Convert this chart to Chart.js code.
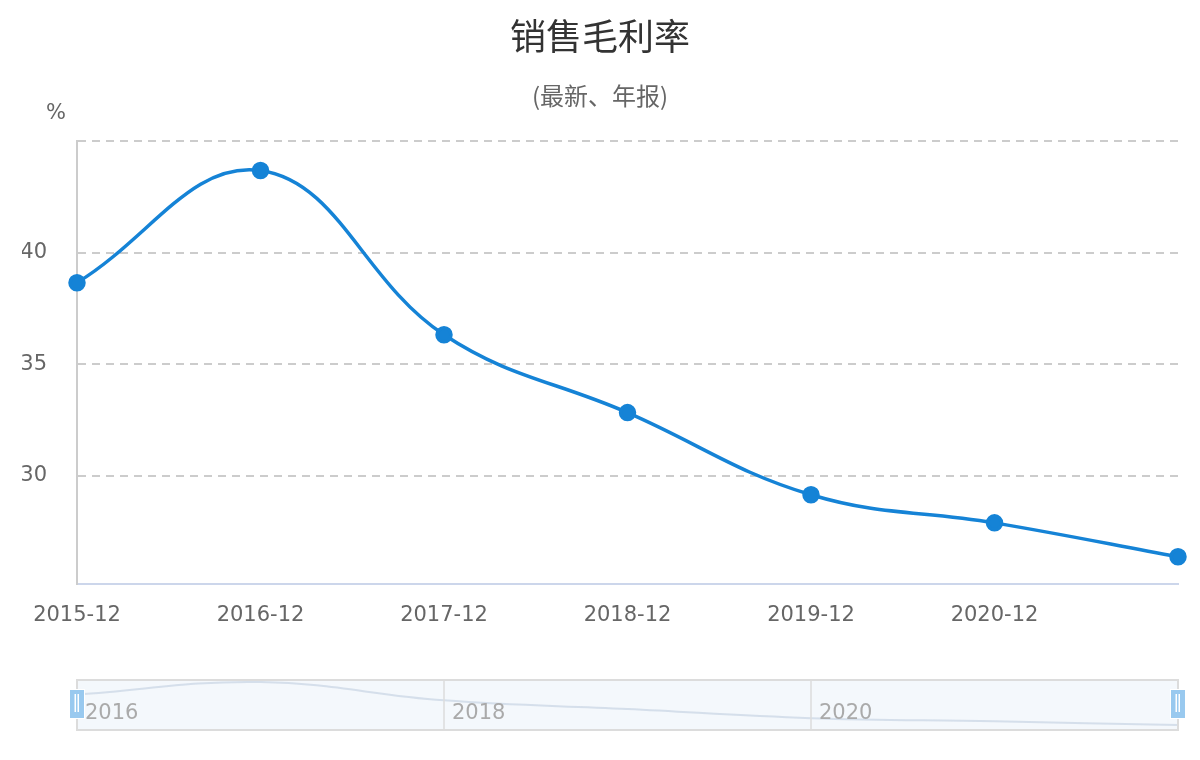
<!DOCTYPE html>
<html>
<head>
<meta charset="utf-8">
<script src="https://cdn.jsdelivr.net/npm/chart.js@4.4.1/dist/chart.umd.min.js"></script>
<style>
  body { margin: 0; background: #fff; }
  canvas { display: block; }
</style>
</head>
<body>
<canvas id="mainChart" width="1200" height="660"></canvas>
<canvas id="navChart" width="1200" height="100"></canvas>
<script>
const categories = ['2015-12', '2016-12', '2017-12', '2018-12', '2019-12', '2020-12', '2021-12'];
const grossMargin = [38.65, 43.68, 36.32, 32.83, 29.15, 27.89, 26.37];
const yTicks = [30, 35, 40, 45];
const navTickIndex = [0, 2, 4];
const navTickLabels = ['2016', '2018', '2020'];

const numFont = 'DejaVu Sans';
const cjkFont = 'Noto Sans CJK SC';

// unit label above the y axis
const unitPlugin = {
    id: 'unit',
    afterDraw(chart) {
        const ctx = chart.ctx, a = chart.chartArea;
        ctx.save();
        ctx.font = '21px "' + numFont + '"';
        ctx.fillStyle = '#666';
        ctx.textAlign = 'center';
        ctx.textBaseline = 'middle';
        ctx.fillText('%', a.left - 21, a.top - 27);
        ctx.restore();
    }
};

new Chart(document.getElementById('mainChart'), {
    type: 'line',
    data: {
        labels: categories,
        datasets: [{
            data: grossMargin,
            borderColor: '#1583d6',
            backgroundColor: '#1583d6',
            borderWidth: 3.5,
            tension: 0.4,
            pointRadius: 7,
            pointHoverRadius: 7,
            clip: false
        }]
    },
    options: {
        responsive: false,
        animation: false,
        layout: { padding: { top: 0, left: 22, right: 22, bottom: 13 } },
        plugins: {
            legend: { display: false },
            tooltip: { enabled: false },
            title: {
                display: true, text: '销售毛利率', color: '#333',
                font: { family: cjkFont, size: 36, weight: 'normal' },
                padding: { top: 15, bottom: 0 }
            },
            subtitle: {
                display: true, text: '(最新、年报)', color: '#666',
                font: { family: cjkFont, size: 24, weight: 'normal' },
                padding: { top: 23, bottom: 31 }
            }
        },
        scales: {
            x: {
                grid: { display: false, drawTicks: false },
                border: { display: true, color: '#ccd6eb', width: 2 },
                ticks: {
                    autoSkip: false, maxRotation: 0, padding: 19, color: '#666',
                    font: { family: numFont, size: 21 },
                    callback: (v, i) => i === categories.length - 1 ? '' : categories[i]
                }
            },
            y: {
                min: 25.16, max: 45,
                afterBuildTicks: axis => { axis.ticks = yTicks.map(v => ({ value: v })); },
                afterFit: axis => { axis.width = 55; },
                grid: { color: '#ccc', lineWidth: 2, drawTicks: false },
                border: { display: true, color: '#ccc', width: 2, dash: [8, 6] },
                ticks: {
                    padding: 30, color: '#666',
                    font: { family: numFont, size: 21 },
                    callback: v => v === 45 ? '' : v
                }
            }
        }
    },
    plugins: [unitPlugin]
});

// small overview slider under the chart
const navPlugin = {
    id: 'nav',
    beforeDatasetsDraw(chart) {
        const ctx = chart.ctx, a = chart.chartArea;
        ctx.save();
        ctx.fillStyle = '#f4f8fc';
        ctx.fillRect(a.left, a.top, a.right - a.left, a.bottom - a.top);
        ctx.restore();
    },
    afterDatasetsDraw(chart) {
        const ctx = chart.ctx, a = chart.chartArea, x = chart.scales.x;
        ctx.save();
        ctx.strokeStyle = '#dcdcdc';
        ctx.lineWidth = 1.5;
        navTickIndex.forEach((idx, k) => {
            const px = x.getPixelForValue(idx);
            if (k > 0) {
                ctx.beginPath();
                ctx.moveTo(px, a.top);
                ctx.lineTo(px, a.bottom);
                ctx.stroke();
            }
            ctx.font = '21px "' + numFont + '"';
            ctx.fillStyle = '#aaa';
            ctx.textAlign = 'left';
            ctx.textBaseline = 'middle';
            ctx.fillText(navTickLabels[k], px + 8, a.top + 34);
        });
        ctx.lineWidth = 2;
        ctx.strokeRect(a.left, a.top, a.right - a.left, a.bottom - a.top);
        [a.left, a.right].forEach(hx => {
            ctx.fillStyle = '#fff';
            ctx.fillRect(hx - 8, a.top + 9, 16, 30);
            ctx.fillStyle = '#99c9ef';
            ctx.fillRect(hx - 7, a.top + 10, 14, 28);
            ctx.fillStyle = '#fff';
            ctx.fillRect(hx - 2.5, a.top + 14, 1.5, 18);
            ctx.fillRect(hx + 0.5, a.top + 14, 1.5, 18);
        });
        ctx.restore();
    }
};

new Chart(document.getElementById('navChart'), {
    type: 'line',
    data: {
        labels: categories,
        datasets: [{
            data: grossMargin,
            borderColor: 'rgba(205, 216, 230, 0.8)',
            borderWidth: 2,
            tension: 0.4,
            pointRadius: 0
        }]
    },
    options: {
        responsive: false,
        animation: false,
        layout: { padding: { top: 20, left: 77, right: 22, bottom: 30 } },
        plugins: { legend: { display: false }, tooltip: { enabled: false } },
        scales: {
            x: { display: false },
            y: { display: false, min: 24.4, max: 44.5 }
        }
    },
    plugins: [navPlugin]
});
</script>
</body>
</html>
